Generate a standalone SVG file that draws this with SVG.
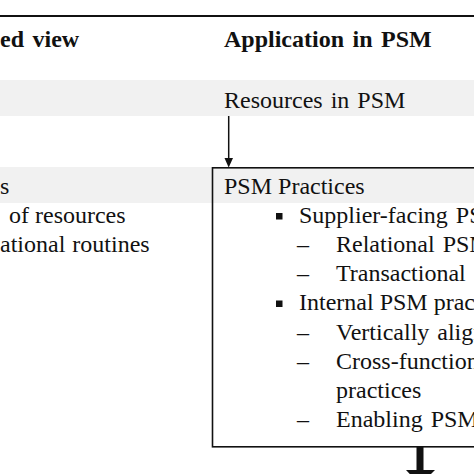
<svg xmlns="http://www.w3.org/2000/svg" width="474" height="474" viewBox="0 0 474 474">
  <style>
    text { font-family: "Liberation Serif", "Times New Roman", serif; font-size: 24px; fill: #111; }
    .b { font-weight: bold; word-spacing: 2.5px; }
    .band { fill: #f1f1f1; }
    .box { fill: none; stroke: #111; stroke-width: 1.6; }
    .bullet { fill: #111; }
  </style>
  <defs>
    <marker id="ah" viewBox="0 0 8 9" refX="4" refY="9" markerWidth="8" markerHeight="9" markerUnits="userSpaceOnUse" orient="auto-start-reverse">
      <path d="M0,0 L8,0 L4,9 Z" fill="#111"/>
    </marker>
  </defs>
  <rect width="474" height="474" fill="#fff"/>

  <!-- header -->
  <g id="header">
    <line x1="0" y1="16" x2="474" y2="16" stroke="#111" stroke-width="2"/>
    <text class="b" x="0" y="47">ed view</text>
    <text class="b" x="224" y="47">Application in PSM</text>
  </g>

  <!-- shaded bands -->
  <rect class="band" x="0" y="80" width="474" height="36"/>
  <rect class="band" x="0" y="167" width="474" height="36"/>

  <!-- left column -->
  <g id="left-column">
    <text x="0" y="194">s</text>
    <text x="9" y="223">of resources</text>
    <text x="0" y="252" style="word-spacing:1px">ational routines</text>
  </g>

  <!-- resources node -->
  <g id="resources">
    <text x="224" y="108" style="word-spacing:2px">Resources in PSM</text>
  </g>

  <!-- practices node -->
  <g id="practices">
    <rect class="box" x="212.5" y="167.8" width="280" height="279"/>
    <text x="224" y="194">PSM Practices</text>
    <rect class="bullet" x="276" y="213" width="6.5" height="6.5"/>
    <text x="299" y="223" style="word-spacing:2px">Supplier-facing PSM</text>
    <text x="297" y="252">–</text>
    <text x="336" y="252" style="word-spacing:2px">Relational PSM</text>
    <text x="297" y="281">–</text>
    <text x="336" y="281">Transactional</text>
    <rect class="bullet" x="276" y="300.5" width="6.5" height="6.5"/>
    <text x="299" y="310">Internal PSM practices</text>
    <text x="297" y="340">–</text>
    <text x="336" y="340" style="word-spacing:2px">Vertically aligned</text>
    <text x="297" y="369">–</text>
    <text x="336" y="369">Cross-functional</text>
    <text x="336" y="398">practices</text>
    <text x="297" y="427">–</text>
    <text x="336" y="427" style="word-spacing:2px">Enabling PSM</text>
  </g>

  <!-- connectors -->
  <g id="connectors">
    <line x1="228.7" y1="116" x2="228.7" y2="158" stroke="#111" stroke-width="1.5"/>
    <path d="M224.5,158 L233,158 L228.7,167.5 Z" fill="#111"/>
    <rect x="416.5" y="447" width="7" height="24" fill="#111"/>
    <path d="M406,470 L435,470 L420,485 Z" fill="#111"/>
  </g>
</svg>
